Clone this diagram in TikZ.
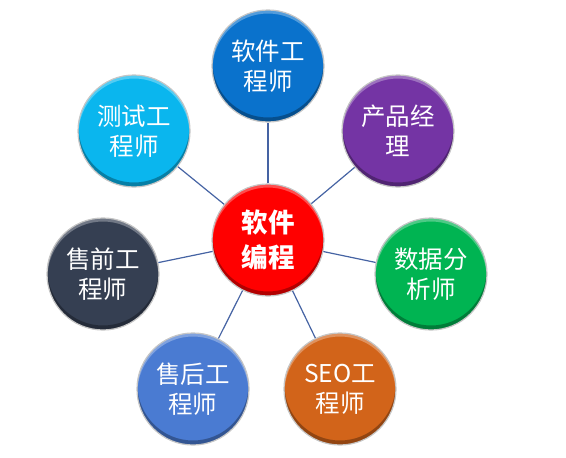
\documentclass[tikz,border=0pt]{standalone}
\usepackage{fontspec}
\newfontfamily\cjk{Noto Sans CJK SC}
\usetikzlibrary{calc}
\definecolor{cRed}{HTML}{FF0000}
\definecolor{cBlue}{HTML}{0A72CC}
\definecolor{cPurple}{HTML}{7434A4}
\definecolor{cGreen}{HTML}{00B452}
\definecolor{cOrange}{HTML}{D2641A}
\definecolor{cSteel}{HTML}{4A7BD2}
\definecolor{cSlate}{HTML}{353F52}
\definecolor{cCyan}{HTML}{0AB6EE}
\definecolor{cLine}{HTML}{4563A3}
\tikzset{
  ball/.style={circle, minimum size=112pt, inner sep=0pt, fill=#1,
    draw=gray!45, line width=1.2pt, text=white, align=center,
    font=\cjk\fontsize{24.5}{30}\selectfont,
    path picture={
      \coordinate (pc) at (path picture bounding box.center);
      \fill[black, opacity=.30, even odd rule] (pc) circle (56pt) ([yshift=4pt]pc) circle (55.5pt);
      \fill[white, opacity=.30, even odd rule] (pc) circle (56pt) ([yshift=-3pt]pc) circle (55.5pt);
    }},
  link/.style={draw=cLine, line width=1.2pt}
}
\begin{document}
\begin{tikzpicture}[x=1pt,y=-1pt]
\useasboundingbox (0,0) rectangle (566,458);
\node[ball=cRed, font=\cjk\bfseries\fontsize{26.5}{35}\selectfont] (c) at (268,240) {软件\\编程};
\node[ball=cBlue] (a) at (268,66) {软件工\\程师};
\node[ball=cPurple] (b) at (398,131) {产品经\\理};
\node[ball=cGreen] (d) at (431,274) {数据分\\析师};
\node[ball=cOrange] (e) at (340,389) {SEO工\\程师};
\node[ball=cSteel] (f) at (193,389) {售后工\\程师};
\node[ball=cSlate] (g) at (103,274) {售前工\\程师};
\node[ball=cCyan] (h) at (134,131) {测试工\\程师};
\foreach \n in {a,b,d,e,f,g,h} {\draw[link] (c) -- (\n);}
\end{tikzpicture}
\end{document}
